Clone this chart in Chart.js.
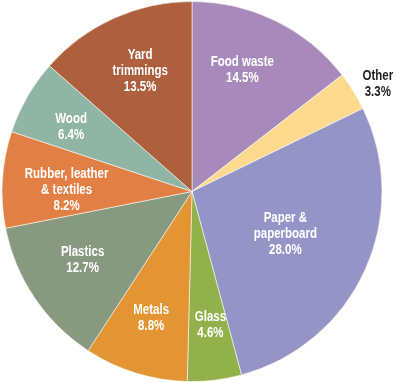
<!DOCTYPE html>
<html><head><meta charset="utf-8">
<script src="https://cdn.jsdelivr.net/npm/chart.js@4"></script>
<style>html,body{margin:0;padding:0;background:#fff;}#c{display:block;}</style>
</head><body>
<canvas id="c" width="395" height="382"></canvas>
<script>
const categories = ["Food waste", "Other", "Paper & paperboard", "Glass", "Metals", "Plastics", "Rubber, leather & textiles", "Wood", "Yard trimmings"];
const labelLines = [["Food waste"], ["Other"], ["Paper &", "paperboard"], ["Glass"], ["Metals"], ["Plastics"], ["Rubber, leather", "& textiles"], ["Wood"], ["Yard", "trimmings"]];
const values = [14.5, 3.3, 28.0, 4.6, 8.8, 12.7, 8.2, 6.4, 13.5];
const colors = ["#A889BC", "#FDD98E", "#9594C7", "#92B14A", "#E29532", "#87997E", "#E27F45", "#90B5A4", "#AE5F3E"];
const labelRadius = [0.69, 1.13, 0.54, 0.71, 0.70, 0.68, 0.66, 0.72, 0.69];
const labelAngleShift = [-3.5, 1.8, 0, -1, 0.6, 1.9, -3, -2, 1];
const labelColor = ["#fff", "#231F20", "#fff", "#fff", "#fff", "#fff", "#fff", "#fff", "#fff"];

const labelPlugin = {
  id: 'sliceLabels',
  afterDatasetsDraw(chart) {
    const ctx = chart.ctx;
    const meta = chart.getDatasetMeta(0);
    meta.data.forEach((arc, i) => {
      const p = arc.getProps(['x', 'y', 'startAngle', 'endAngle', 'outerRadius']);
      const mid = (p.startAngle + p.endAngle) / 2 + labelAngleShift[i] * Math.PI / 180;
      const r = p.outerRadius * labelRadius[i];
      const cx = p.x + Math.cos(mid) * r;
      const cy = p.y + Math.sin(mid) * r;
      const lines = labelLines[i].concat([values[i].toFixed(1) + '%']);
      const lh = 16;
      ctx.save();
      ctx.translate(cx, cy);
      ctx.scale(0.82, 1);
      ctx.font = "bold 14px 'Liberation Sans', 'DejaVu Sans', sans-serif";
      ctx.textAlign = 'center';
      ctx.textBaseline = 'middle';
      ctx.fillStyle = labelColor[i];
      lines.forEach((t, k) => {
        ctx.fillText(t, 0, (k - (lines.length - 1) / 2) * lh);
      });
      ctx.restore();
    });
  }
};

new Chart(document.getElementById('c'), {
  type: 'pie',
  data: {
    labels: categories,
    datasets: [{
      data: values,
      backgroundColor: colors,
      borderColor: 'rgba(255,255,255,0.55)',
      borderWidth: 1,
      hoverOffset: 0
    }]
  },
  options: {
    responsive: false,
    animation: false,
    layout: { padding: { left: 1, top: 1, right: 12, bottom: 0 } },
    plugins: { legend: { display: false }, tooltip: { enabled: false } }
  },
  plugins: [labelPlugin]
});
</script>
</body></html>
